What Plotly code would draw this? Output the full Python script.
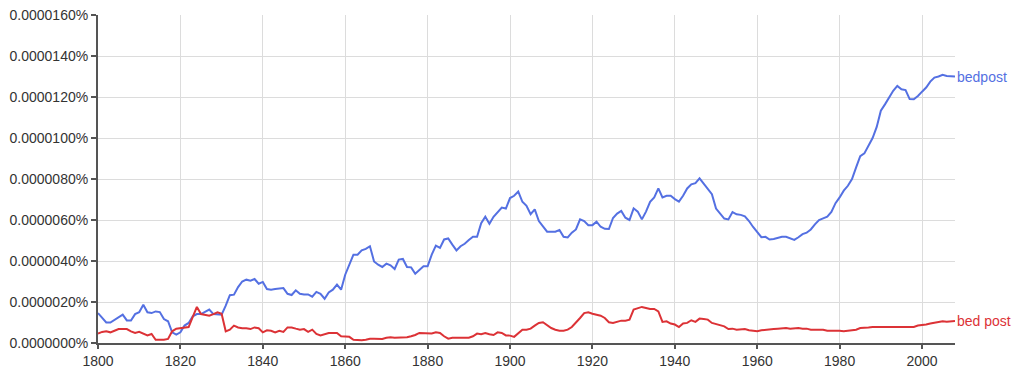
import plotly.graph_objects as go

years = list(range(1800, 2009))

# values in millionths of a percent (1.0 -> 0.0000010%)
bedpost = [
    1.46, 1.22, 1.00, 1.00, 1.14, 1.27, 1.38, 1.10, 1.10, 1.41,
    1.50, 1.87, 1.50, 1.46, 1.54, 1.51, 1.17, 1.06, 0.52, 0.41,
    0.52, 0.85, 0.98, 1.30, 1.41, 1.41, 1.54, 1.63, 1.41, 1.41,
    1.38, 1.82, 2.33, 2.36, 2.73, 3.00, 3.09, 3.04, 3.12, 2.89,
    2.98, 2.63, 2.60, 2.63, 2.67, 2.68, 2.40, 2.34, 2.57, 2.40,
    2.37, 2.37, 2.26, 2.49, 2.40, 2.16, 2.47, 2.60, 2.85, 2.60,
    3.33, 3.82, 4.31, 4.31, 4.52, 4.59, 4.72, 3.98, 3.82, 3.71,
    3.87, 3.79, 3.61, 4.07, 4.10, 3.71, 3.69, 3.38, 3.58, 3.74,
    3.74, 4.31, 4.75, 4.64, 5.05, 5.10, 4.80, 4.52, 4.72, 4.84,
    5.02, 5.18, 5.18, 5.84, 6.16, 5.82, 6.16, 6.41, 6.61, 6.56,
    7.07, 7.18, 7.39, 6.89, 6.69, 6.28, 6.52, 5.95, 5.70, 5.43,
    5.43, 5.43, 5.51, 5.18, 5.15, 5.38, 5.54, 6.03, 5.95, 5.75,
    5.75, 5.92, 5.67, 5.57, 5.56, 6.10, 6.31, 6.44, 6.11, 6.00,
    6.57, 6.41, 6.03, 6.41, 6.89, 7.10, 7.54, 7.10, 7.18, 7.18,
    7.02, 6.90, 7.18, 7.54, 7.74, 7.80, 8.03, 7.79, 7.51, 7.26,
    6.56, 6.31, 6.07, 6.03, 6.39, 6.28, 6.25, 6.18, 5.95, 5.66,
    5.38, 5.16, 5.18, 5.05, 5.07, 5.11, 5.18, 5.18, 5.10, 5.03,
    5.16, 5.31, 5.38, 5.54, 5.79, 6.00, 6.08, 6.16, 6.39, 6.82,
    7.10, 7.43, 7.67, 8.00, 8.57, 9.11, 9.25, 9.59, 10.00, 10.54,
    11.33, 11.64, 11.97, 12.30, 12.54, 12.38, 12.34, 11.90, 11.89, 12.05,
    12.26, 12.46, 12.75, 12.95, 13.00, 13.08, 13.03, 13.00, 13.00,
]

bed_post = [
    0.46, 0.54, 0.57, 0.52, 0.60, 0.68, 0.68, 0.68, 0.57, 0.49,
    0.55, 0.46, 0.37, 0.44, 0.16, 0.16, 0.16, 0.20, 0.57, 0.70,
    0.73, 0.73, 0.78, 1.27, 1.76, 1.41, 1.37, 1.33, 1.41, 1.50,
    1.43, 0.57, 0.65, 0.85, 0.76, 0.72, 0.72, 0.68, 0.76, 0.72,
    0.52, 0.62, 0.60, 0.52, 0.60, 0.54, 0.76, 0.76, 0.70, 0.65,
    0.68, 0.54, 0.65, 0.44, 0.37, 0.44, 0.49, 0.49, 0.49, 0.33,
    0.30, 0.30, 0.16, 0.13, 0.13, 0.16, 0.21, 0.21, 0.20, 0.20,
    0.26, 0.28, 0.26, 0.26, 0.26, 0.28, 0.33, 0.39, 0.49, 0.49,
    0.46, 0.46, 0.52, 0.49, 0.33, 0.21, 0.26, 0.26, 0.28, 0.26,
    0.26, 0.33, 0.46, 0.43, 0.49, 0.43, 0.39, 0.52, 0.49, 0.37,
    0.36, 0.30, 0.46, 0.65, 0.65, 0.70, 0.85, 0.98, 1.01, 0.85,
    0.73, 0.65, 0.60, 0.60, 0.65, 0.78, 0.98, 1.22, 1.46, 1.50,
    1.43, 1.38, 1.33, 1.22, 1.01, 0.98, 1.03, 1.09, 1.09, 1.14,
    1.63, 1.71, 1.76, 1.71, 1.66, 1.66, 1.54, 1.03, 1.06, 0.95,
    0.90, 0.78, 0.95, 0.98, 1.11, 1.03, 1.19, 1.17, 1.14, 0.98,
    0.93, 0.86, 0.81, 0.68, 0.70, 0.65, 0.65, 0.68, 0.62, 0.60,
    0.57, 0.62, 0.65, 0.68, 0.68, 0.70, 0.73, 0.73, 0.70, 0.73,
    0.73, 0.70, 0.70, 0.65, 0.65, 0.67, 0.65, 0.60, 0.60, 0.62,
    0.60, 0.57, 0.59, 0.60, 0.65, 0.73, 0.73, 0.76, 0.78, 0.78,
    0.80, 0.80, 0.78, 0.80, 0.78, 0.80, 0.80, 0.78, 0.78, 0.85,
    0.86, 0.90, 0.95, 0.98, 1.01, 1.06, 1.04, 1.06, 1.07,
]

series_names = ["bedpost", "bed post"]
series_colors = ["#5470e2", "#dc3236"]
x_ticks = list(range(1800, 2001, 20))
UNIT = 1e-6
y_ticks = [i * 2 * UNIT for i in range(9)]
y_ticklabels = ["%.7f%%" % v for v in y_ticks]

FONT = "Liberation Sans, Arial, sans-serif"

fig = go.Figure()
for name, vals, col in zip(series_names, [bedpost, bed_post], series_colors):
    yv = [v * UNIT for v in vals]
    fig.add_trace(go.Scatter(x=years, y=yv, mode="lines", name=name,
                             line=dict(color=col, width=2), hoverinfo="x+y+name"))
    fig.add_annotation(x=years[-1], y=yv[-1], xref="x", yref="y", text=name,
                       showarrow=False, xanchor="left", yanchor="middle", xshift=0,
                       font=dict(color=col, size=14, family=FONT))

fig.update_layout(
    width=1024, height=372,
    margin=dict(l=98, r=69, t=15, b=29, autoexpand=False),
    paper_bgcolor="white", plot_bgcolor="white",
    showlegend=False,
    font=dict(family=FONT, size=14, color="#333"),
)
fig.update_xaxes(
    range=[1800, 2008], tickvals=x_ticks, ticktext=[str(t) for t in x_ticks],
    tickfont=dict(family=FONT, size=14, color="#333"),
    showgrid=True, gridcolor="#dcdcdc", gridwidth=1,
    showline=True, linecolor="#555", linewidth=2,
    ticks="outside", ticklen=4, tickwidth=2, tickcolor="#555",
    zeroline=False, automargin=False,
)
fig.update_yaxes(
    range=[0, 16 * UNIT], tickvals=y_ticks, ticktext=y_ticklabels,
    tickfont=dict(family=FONT, size=14, color="#333"),
    showgrid=True, gridcolor="#dcdcdc", gridwidth=1,
    showline=True, linecolor="#555", linewidth=2,
    ticks="outside", ticklen=5, tickwidth=2, tickcolor="#555",
    zeroline=False, automargin=False,
)

fig.write_html("out.html")
